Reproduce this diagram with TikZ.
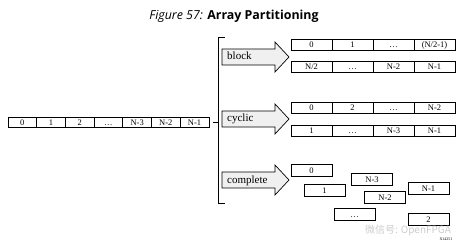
\documentclass[tikz,border=0pt]{standalone}
\usepackage{fontspec}
\setmainfont{Liberation Serif}
\newfontfamily\titlefont{Open Sans}
\newfontfamily\cjkfont{Noto Sans CJK SC}
\usetikzlibrary{positioning}
\tikzset{
  cellbox/.style={draw, line width=0.7pt, minimum width=28.7pt, minimum height=10pt, inner sep=0pt, text height=1.6ex, text depth=0.25ex, font=\fontsize{8.5}{9}\selectfont},
  partbox/.style={cellbox, minimum width=41pt, minimum height=11pt},
  partarrow/.style={draw, line width=0.7pt, fill=gray!12},
}
\begin{document}
\begin{tikzpicture}[x=1pt,y=-1pt]
\useasboundingbox (0,0) rectangle (474,251);
\node[font=\titlefont\fontsize{12.4}{14}\selectfont] (title) at (234,16) {\textit{Figure 57:} \textbf{Array Partitioning}};
\foreach \t [count=\i] in {0,1,2,\dots,N-3,N-2,N-1}
  \node[cellbox] (m\i) at ({8+28.7*(\i-0.5)},122) {\t};
\coordinate (brTop) at (218,37);
\coordinate (brBot) at (218,203);
\draw[line width=0.7pt] ([xshift=7pt]brTop) -- (brTop) -- (brBot) -- ([xshift=7pt]brBot);
\draw[line width=0.7pt] ([xshift=4pt]m7.east) -- (m7.east -| brTop);
\foreach \y/\lab/\nm in {57/block/blk, 119/cyclic/cyc, 180/complete/cpl}{
  \draw[partarrow] (222,\y-8) -- (275,\y-8) -- (275,\y-15) -- (289,\y) -- (275,\y+15) -- (275,\y+8) -- (222,\y+8) -- cycle;
  \node[font=\fontsize{11}{12}\selectfont, anchor=base west, inner sep=0pt] (\nm) at (227,\y+3) {\lab};
}
\foreach \t [count=\i] in {0,1,\dots,(N/2-1)}
  \node[partbox] (blkA\i) at ({291+41*(\i-0.5)},44.5) {\t};
\foreach \t [count=\i] in {N/2,\dots,N-2,N-1}
  \node[partbox] (blkB\i) at ({291+41*(\i-0.5)},66.5) {\t};
\foreach \t [count=\i] in {0,2,\dots,N-2}
  \node[partbox] (cycA\i) at ({291+41*(\i-0.5)},107.5) {\t};
\foreach \t [count=\i] in {1,\dots,N-3,N-1}
  \node[partbox] (cycB\i) at ({291+41*(\i-0.5)},130.5) {\t};
\foreach \t/\x/\y [count=\i] in {0/311.5/170, 1/324.5/190, N-3/372/179.5, N-2/385/197, N-1/428.5/188, \dots/354.5/214, 2/428.5/219.5}
  \node[partbox, minimum height=12pt] (cpl\i) at (\x,\y) {\t};
\node[text=gray!40, font=\cjkfont\fontsize{10}{12}\selectfont, inner sep=0pt] (wm) at (408,230.5) {微信号: OpenFPGA};
\node[font=\fontsize{4}{4}\selectfont, inner sep=0pt] (fignum) at (446,239) {X14251};
\end{tikzpicture}
\end{document}
